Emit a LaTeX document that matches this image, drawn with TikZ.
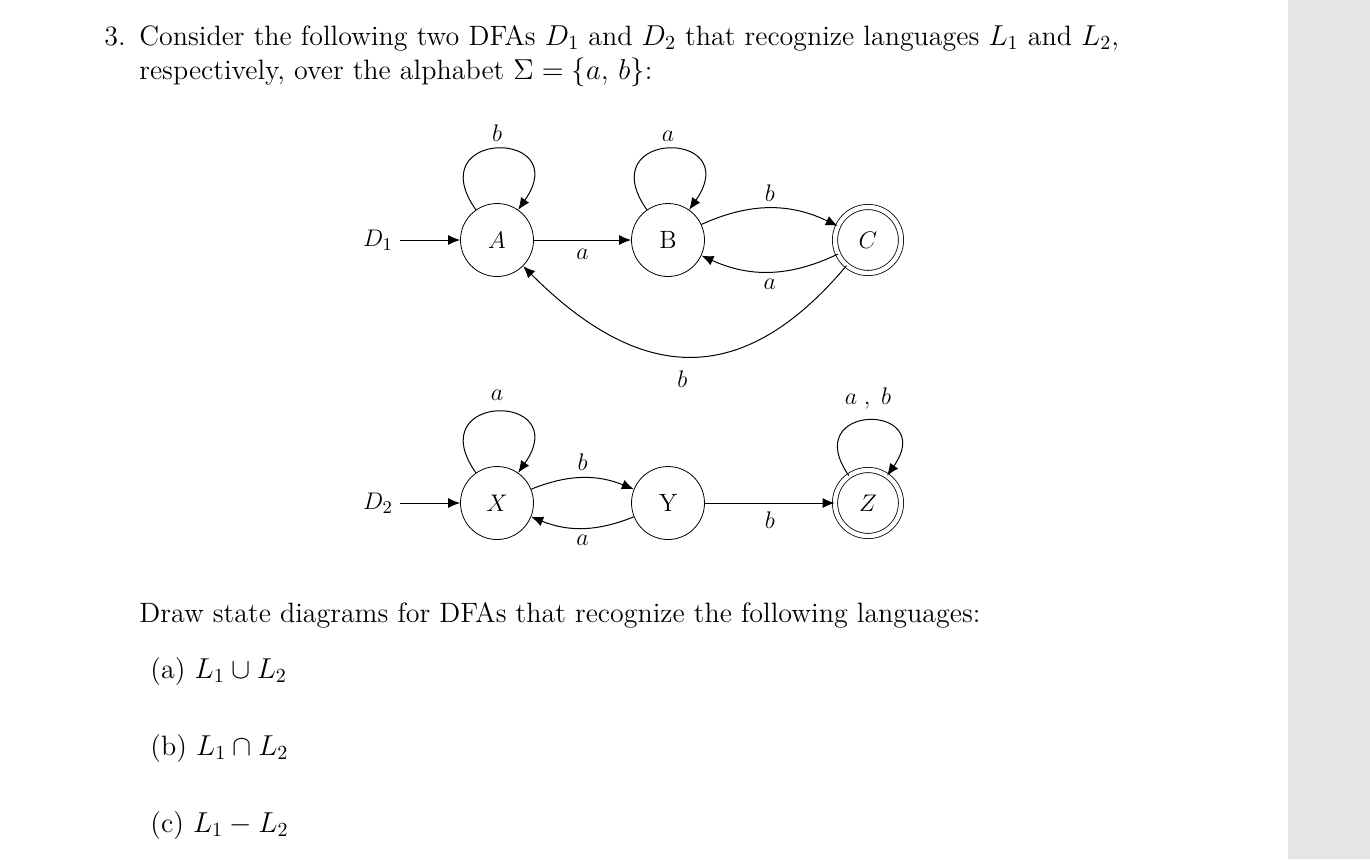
\documentclass[tikz,border=0pt]{standalone}
\usetikzlibrary{arrows.meta}
\begin{document}
\begin{tikzpicture}[x=0.5pt,y=-0.5pt,
  st/.style={circle,draw,minimum size=36.5pt,inner sep=0pt,font=\fontsize{12.5}{14}\selectfont},
  acc/.style={st,double,double distance=2.2pt,minimum size=33pt},
  tr/.style={-{Latex[length=6pt,width=5pt]},line width=0.5pt},
  lb/.style={font=\fontsize{12.5}{14}\selectfont},
  txt/.style={anchor=base west,inner sep=0pt,font=\fontsize{14}{17}\selectfont}]
\useasboundingbox (0,0) rectangle (1370,859);
\fill[white] (0,0) rectangle (1288,859);
\fill[black!10] (1288,0) rectangle (1370,859);
\node[txt] (n3) at (104,45) {3.};
\node[txt] (l1) at (139,45) {Consider the following two DFAs $D_1$ and $D_2$ that recognize languages $L_1$ and $L_2$,};
\node[txt] (l2) at (139,79) {respectively, over the alphabet $\Sigma=\{a,\,b\}$:};
% D1
\node[st] (A) at (497,240) {$A$};
\node[st] (B) at (668,240) {B};
\node[acc] (C) at (868,240) {$C$};
\node[lb] (d1) at (378,240) {$D_1$};
\draw[tr] (d1) -- (A);
\draw[tr] (A) to[out=125,in=55,looseness=6] node[lb,above]{$b$} (A);
\draw[tr] (B) to[out=125,in=55,looseness=6] node[lb,above]{$a$} (B);
\draw[tr] (A) -- node[lb,below,yshift=-1pt]{$a$} (B);
\draw[tr] (B) to[bend left=25] node[lb,above]{$b$} (C);
\draw[tr] (C) to[bend left=25] node[lb,below]{$a$} (B);
\draw[tr] (C) to[out=-130,in=-45,looseness=1.3] node[lb,below,pos=0.52,yshift=-4pt]{$b$} (A);
% D2
\node[st] (X) at (497,503) {$X$};
\node[st] (Y) at (668,503) {Y};
\node[acc] (Z) at (868,503) {$Z$};
\node[lb] (d2) at (378,503) {$D_2$};
\draw[tr] (d2) -- (X);
\draw[tr] (X) to[out=125,in=55,looseness=6] node[lb,above,yshift=2pt]{$a$} (X);
\draw[tr] (Z) to[out=125,in=55,looseness=6] node[lb,above,yshift=2pt]{$a\;,\;b$} (Z);
\draw[tr] (X) to[bend left=22] node[lb,above]{$b$} (Y);
\draw[tr] (Y) to[bend left=22] node[lb,below]{$a$} (X);
\draw[tr] (Y) -- node[lb,below,yshift=-1pt]{$b$} (Z);
% questions
\node[txt] (q) at (139,622) {Draw state diagrams for DFAs that recognize the following languages:};
\node[txt] (qa) at (150,678) {(a)\ $L_1\cup L_2$};
\node[txt] (qb) at (150,755) {(b)\ $L_1\cap L_2$};
\node[txt] (qc) at (150,832) {(c)\ $L_1-L_2$};
\end{tikzpicture}
\end{document}
